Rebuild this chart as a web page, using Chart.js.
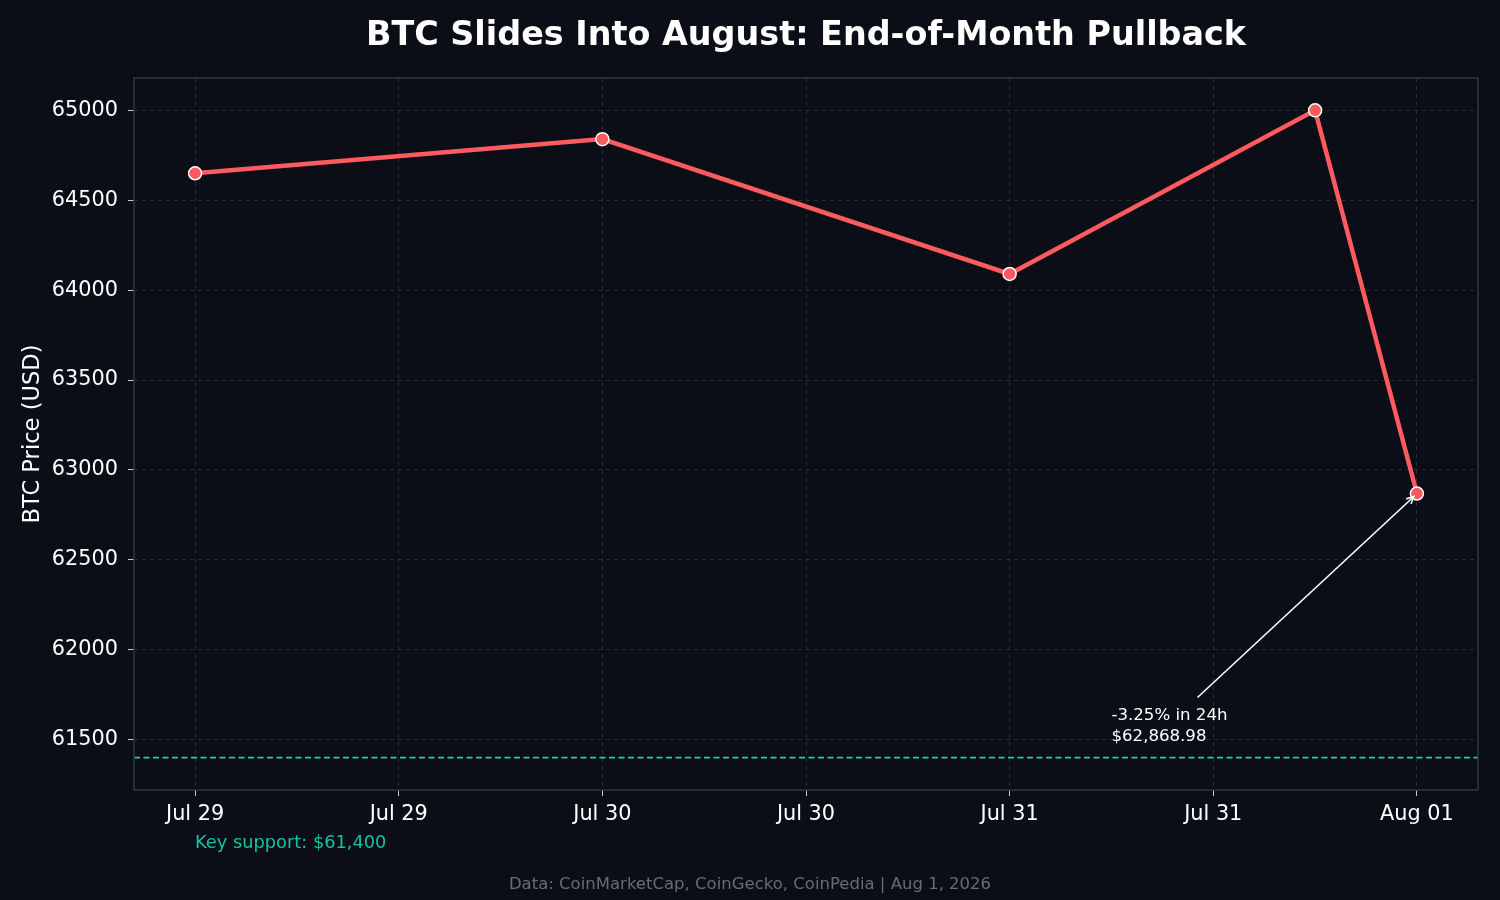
<!DOCTYPE html>
<html>
<head>
<meta charset="utf-8">
<script src="https://cdn.jsdelivr.net/npm/chart.js@4/dist/chart.umd.min.js"></script>
<style>
  html, body { margin: 0; padding: 0; background: #0b0e16; }
  #wrap { width: 1500px; height: 900px; }
</style>
</head>
<body>
<div id="wrap"><canvas id="btcChart" width="1500" height="900"></canvas></div>
<script>
// hours since Jul 29 00:00
const hours = [0, 24, 48, 66, 72];
const prices = [64650, 64840, 64090, 65000, 62868.98];
const tickHours = [0, 12, 24, 36, 48, 60, 72];
const tickLabels = ['Jul 29', 'Jul 29', 'Jul 30', 'Jul 30', 'Jul 31', 'Jul 31', 'Aug 01'];
const yTicks = [61500, 62000, 62500, 63000, 63500, 64000, 64500, 65000];
const supportLevel = 61400;
const noteLines = ['-3.25% in 24h', '$62,868.98'];

const FONT = "'DejaVu Sans', sans-serif";
const bg = '#0b0e16';

const extras = {
  id: 'extras',
  beforeDraw(chart) {
    const c = chart.ctx;
    c.save();
    c.fillStyle = bg;
    c.fillRect(0, 0, chart.width, chart.height);
    c.restore();
  },
  beforeDatasetsDraw(chart) {
    const { ctx: c, chartArea: a, scales: { y } } = chart;
    // support line
    const sy = y.getPixelForValue(supportLevel);
    c.save();
    c.strokeStyle = '#19d3ae';
    c.lineWidth = 1.8;
    c.setLineDash([6, 3.5]);
    c.beginPath();
    c.moveTo(a.left, sy);
    c.lineTo(a.right, sy);
    c.stroke();
    c.restore();
  },
  afterDraw(chart) {
    const { ctx: c, chartArea: a, scales: { x, y } } = chart;
    c.save();
    // frame
    c.strokeStyle = '#34363b';
    c.lineWidth = 1.5;
    c.strokeRect(a.left, a.top, a.right - a.left, a.bottom - a.top);

    // title
    c.fillStyle = '#ffffff';
    c.font = 'bold 33.4px ' + FONT;
    c.textAlign = 'center';
    c.textBaseline = 'middle';
    c.fillText('BTC Slides Into August: End-of-Month Pullback', (a.left + a.right) / 2, 36);

    // arrow annotation
    const last = hours.length - 1;
    const px = x.getPixelForValue(hours[last]);
    const py = y.getPixelForValue(prices[last]);
    const tx = x.getPixelForValue(54);
    const ty = y.getPixelForValue(61690);
    const sx = tx + 86, sy0 = ty - 8;
    const ex = px - 3, ey = py + 3;
    c.strokeStyle = '#ffffff';
    c.lineWidth = 1.6;
    c.beginPath();
    c.moveTo(sx, sy0);
    c.lineTo(ex, ey);
    c.stroke();
    const ang = Math.atan2(ey - sy0, ex - sx);
    c.beginPath();
    c.moveTo(ex - 8 * Math.cos(ang - 0.45), ey - 8 * Math.sin(ang - 0.45));
    c.lineTo(ex, ey);
    c.lineTo(ex - 8 * Math.cos(ang + 0.45), ey - 8 * Math.sin(ang + 0.45));
    c.stroke();
    c.fillStyle = '#ffffff';
    c.font = '16.6px ' + FONT;
    c.textAlign = 'left';
    c.textBaseline = 'middle';
    noteLines.forEach((t, i) => c.fillText(t, tx, ty + 10 + i * 21));

    // support label
    c.fillStyle = '#15c3a0';
    c.font = '17.8px ' + FONT;
    c.fillText('Key support: $61,400', x.getPixelForValue(0), 843);

    // footer
    c.fillStyle = '#6a6c70';
    c.font = '16.5px ' + FONT;
    c.textAlign = 'center';
    c.fillText('Data: CoinMarketCap, CoinGecko, CoinPedia | Aug 1, 2026', chart.width / 2, 885);
    c.restore();
  }
};

new Chart(document.getElementById('btcChart'), {
  type: 'line',
  data: {
    datasets: [{
      label: 'BTC',
      data: hours.map((h, i) => ({ x: h, y: prices[i] })),
      borderColor: '#ff5a5f',
      borderWidth: 4.5,
      pointRadius: 6.5,
      pointBackgroundColor: '#ff5a5f',
      pointBorderColor: '#ffffff',
      pointBorderWidth: 1.5,
      tension: 0
    }]
  },
  options: {
    responsive: false,
    animation: false,
    layout: { padding: { top: 78, right: 22, bottom: 0, left: 20 } },
    plugins: {
      legend: { display: false },
      title: { display: false },
      tooltip: { enabled: false }
    },
    scales: {
      x: {
        type: 'linear',
        min: -3.6,
        max: 75.6,
        afterBuildTicks: s => { s.ticks = tickHours.map(v => ({ value: v })); },
        afterFit: s => { s.height = 110; },
        ticks: {
          color: '#ffffff',
          font: { family: FONT, size: 20.8 },
          padding: 6,
          maxRotation: 0,
          autoSkip: false,
          callback: v => tickLabels[tickHours.indexOf(v)]
        },
        grid: {
          color: '#2a2c30',
          lineWidth: 1,
          tickColor: '#cccccc',
          tickLength: 6
        },
        border: { display: false, dash: [4, 4] }
      },
      y: {
        min: 61220,
        max: 65180,
        afterBuildTicks: s => { s.ticks = yTicks.map(v => ({ value: v })); },
        afterFit: s => { s.width = 114; },
        ticks: {
          color: '#ffffff',
          font: { family: FONT, size: 20.8 },
          padding: 10,
          callback: v => String(v)
        },
        grid: {
          color: '#2a2c30',
          lineWidth: 1,
          tickColor: '#cccccc',
          tickLength: 6
        },
        border: { display: false, dash: [4, 4] },
        title: {
          display: true,
          text: 'BTC Price (USD)',
          color: '#ffffff',
          font: { family: FONT, size: 22.6 },
          padding: { top: 0, bottom: 0 }
        }
      }
    }
  },
  plugins: [extras]
});
</script>
</body>
</html>
